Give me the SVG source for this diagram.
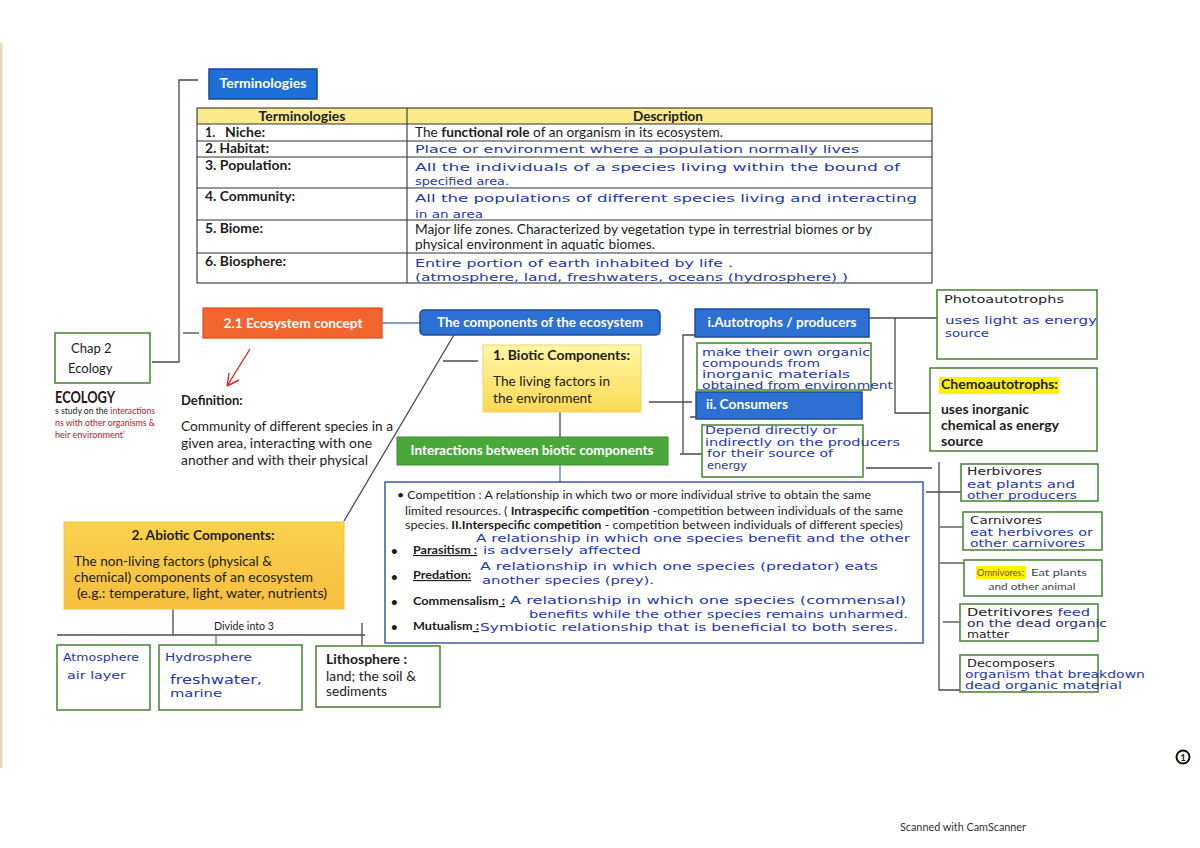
<svg xmlns="http://www.w3.org/2000/svg" width="1200" height="848" viewBox="0 0 1200 848">
<defs>
<style>
.ln{stroke:#4a4a4a;stroke-width:1.3;fill:none}
.lb{stroke:#5b7bb8;stroke-width:1.3;fill:none}
.gbox{fill:#fff;stroke:#4f8a3c;stroke-width:1.6}
.blue{fill:#2d70d3;stroke:#1c4c9c;stroke-width:1.5}
.t{font-family:Lato,"Liberation Sans",sans-serif;font-size:12.5px;fill:#1c1c1c}
.s13{font-size:13px}
.s115{font-size:11.5px}
.s10{font-size:10px;fill:#444}
.b{font-weight:bold}
.w{font-family:Lato,"Liberation Sans",sans-serif;font-size:12.5px;font-weight:bold;fill:#fff}
.hw{font-family:"DejaVu Sans",sans-serif;font-size:11px;fill:#2437b2}
.hk{font-family:"DejaVu Sans",sans-serif;font-size:11px;fill:#222}
.tb{stroke:#333;stroke-width:1.1;fill:none}
</style>
<linearGradient id="gy" x1="0" y1="0" x2="0" y2="1"><stop offset="0" stop-color="#fff6a6"/><stop offset="1" stop-color="#fcd954"/></linearGradient>
<linearGradient id="go" x1="0" y1="0" x2="0" y2="1"><stop offset="0" stop-color="#fad24c"/><stop offset="1" stop-color="#f6bd3f"/></linearGradient>
</defs>
<rect width="1200" height="848" fill="#fff"/>
<rect x="0" y="43" width="2.5" height="725" fill="#e8d8c0"/>

<g id="connectors">
<path class="ln" d="M198,80 H179 V362 H152"/>
<path class="ln" d="M183,333 H199"/>
<path class="lb" d="M382,323 H420"/>
<path class="ln" d="M458,328 L344,521"/>
<path class="ln" d="M443,361 H478"/>
<path class="ln" d="M560,412 V437"/>
<path class="lb" d="M560,465 V482"/>
<path class="ln" d="M649,402 H692"/>
<path class="ln" d="M695,335 H683 V453 M690,417 H696 M680,454 H705"/>
<path class="ln" d="M869,318 H937"/>
<path class="ln" d="M895,318 V413 H932"/>
<path class="ln" d="M866,468 H932"/>
<path class="ln" d="M939,462 V690 H960"/>
<path class="ln" d="M926,492 H961"/>
<path class="ln" d="M940,527 H963"/>
<path class="ln" d="M940,563 H964"/>
<path class="ln" d="M943,622 H960"/>
<path class="ln" d="M173,609 V635"/>
<path class="ln" d="M57,635 H365"/>
<path class="ln" d="M362,623 V646"/>
<path class="lb" d="M216,636 V645"/>
<path d="M250,349 L227,386 M227,386 L229,373 M227,386 L239,380" stroke="#e02626" stroke-width="1.4" fill="none"/>
</g>

<g id="terminologies-header">
<rect x="209" y="69" width="108" height="30" fill="#1f6fd8" stroke="#17479a" stroke-width="1.5"/>
<text class="w" x="263" y="88" text-anchor="middle" textLength="87" lengthAdjust="spacingAndGlyphs">Terminologies</text>
</g>

<g id="terminology-table">
<rect x="197" y="108" width="735" height="16" fill="#fbea8c"/>
<rect class="tb" x="197" y="108" width="735" height="175"/>
<path class="tb" d="M197,124 H932 M197,141 H932 M197,157 H932 M197,188 H932 M197,220 H932 M197,253 H932 M407,108 V283"/>
<text class="t b" x="302" y="121" text-anchor="middle" textLength="87" lengthAdjust="spacingAndGlyphs">Terminologies</text>
<text class="t b" x="668" y="121" text-anchor="middle" textLength="70" lengthAdjust="spacingAndGlyphs">Description</text>
<text class="t b" x="205" y="137">1.</text><text class="t b" x="225" y="137" textLength="40" lengthAdjust="spacingAndGlyphs">Niche:</text>
<text class="t b" x="205" y="153" textLength="64" lengthAdjust="spacingAndGlyphs">2. Habitat:</text>
<text class="t b" x="205" y="170" textLength="86" lengthAdjust="spacingAndGlyphs">3. Population:</text>
<text class="t b" x="205" y="201" textLength="90" lengthAdjust="spacingAndGlyphs">4. Community:</text>
<text class="t b" x="205" y="233" textLength="58" lengthAdjust="spacingAndGlyphs">5. Biome:</text>
<text class="t b" x="205" y="266" textLength="81" lengthAdjust="spacingAndGlyphs">6. Biosphere:</text>
<text class="t" x="415" y="137" textLength="308" lengthAdjust="spacingAndGlyphs">The <tspan class="b">functional role</tspan> of an organism in its ecosystem.</text>
<text class="hw" x="415" y="153" textLength="444" lengthAdjust="spacingAndGlyphs">Place or environment where a population normally lives</text>
<text class="hw" x="415" y="171" textLength="485" lengthAdjust="spacingAndGlyphs">All the individuals of a species living within the bound of</text>
<text class="hw" x="415" y="185" textLength="94" lengthAdjust="spacingAndGlyphs">specified area.</text>
<text class="hw" x="415" y="202" textLength="502" lengthAdjust="spacingAndGlyphs">All the populations of different species living and interacting</text>
<text class="hw" x="415" y="218" textLength="68" lengthAdjust="spacingAndGlyphs">in an area</text>
<text class="t" x="415" y="234" textLength="457" lengthAdjust="spacingAndGlyphs">Major life zones. Characterized by vegetation type in terrestrial biomes or by</text>
<text class="t" x="415" y="249" textLength="240" lengthAdjust="spacingAndGlyphs">physical environment in aquatic biomes.</text>
<text class="hw" x="415" y="267" textLength="318" lengthAdjust="spacingAndGlyphs">Entire portion of earth inhabited by life .</text>
<text class="hw" x="415" y="281" textLength="433" lengthAdjust="spacingAndGlyphs">(atmosphere, land, freshwaters, oceans (hydrosphere) )</text>
</g>

<g id="chap2">
<rect x="55" y="333" width="95" height="50" fill="#fff" stroke="#4f8a3c" stroke-width="1.6"/>
<text class="t s13" x="71" y="353">Chap 2</text>
<text class="t s13" x="68" y="373">Ecology</text>
</g>

<g id="ecology-note">
<text x="55" y="403" font-family="Lato,'Liberation Sans',sans-serif" font-weight="bold" font-size="17" fill="#2a1420" textLength="60" lengthAdjust="spacingAndGlyphs">ECOLOGY</text>
<text x="55" y="414" font-family="Lato,'Liberation Sans',sans-serif" font-size="8.5" fill="#222" textLength="100" lengthAdjust="spacingAndGlyphs">s study on the <tspan fill="#c8102e">interactions</tspan></text>
<text x="55" y="426" font-family="Lato,'Liberation Sans',sans-serif" font-size="8.5" fill="#c8102e" textLength="100" lengthAdjust="spacingAndGlyphs">ns with other organisms &amp;</text>
<text x="55" y="438" font-family="Lato,'Liberation Sans',sans-serif" font-size="8.5" fill="#c8102e" textLength="70" lengthAdjust="spacingAndGlyphs">heir environment’</text>
</g>

<g id="ecosystem-concept">
<rect x="203" y="308" width="179" height="30" fill="#f3652f" stroke="#e04a22" stroke-width="1.2"/>
<text class="w" x="293" y="328" text-anchor="middle" textLength="139" lengthAdjust="spacingAndGlyphs">2.1 Ecosystem concept</text>
</g>

<g id="definition">
<text class="t s13 b" x="181" y="405">Definition:</text>
<text class="t s13" x="181" y="431" textLength="212" lengthAdjust="spacingAndGlyphs">Community of different species in a</text>
<text class="t s13" x="181" y="448" textLength="191" lengthAdjust="spacingAndGlyphs">given area, interacting with one</text>
<text class="t s13" x="181" y="465" textLength="187" lengthAdjust="spacingAndGlyphs">another and with their physical</text>
</g>

<g id="components">
<rect x="420" y="310" width="240" height="25" rx="4" class="blue"/>
<text class="w" x="540" y="327" text-anchor="middle" textLength="206" lengthAdjust="spacingAndGlyphs">The components of the ecosystem</text>
</g>

<g id="biotic">
<rect x="483" y="345" width="158" height="67" fill="url(#gy)" stroke="#f2d36a" stroke-width="1"/>
<text class="t b" x="493" y="360" textLength="137" lengthAdjust="spacingAndGlyphs">1.  Biotic Components:</text>
<text class="t" x="493" y="386" textLength="117" lengthAdjust="spacingAndGlyphs">The living factors  in</text>
<text class="t" x="493" y="403" textLength="99" lengthAdjust="spacingAndGlyphs">the environment</text>
</g>

<g id="interactions-title">
<rect x="397" y="437" width="271" height="28" fill="#4aa83b" stroke="#3b8e2e" stroke-width="1"/>
<text class="w" x="532" y="455" text-anchor="middle" textLength="243" lengthAdjust="spacingAndGlyphs">Interactions between biotic components</text>
</g>

<g id="autotrophs">
<rect x="695" y="309" width="174" height="28" class="blue"/>
<text class="w" x="782" y="327" text-anchor="middle" textLength="149" lengthAdjust="spacingAndGlyphs">i.Autotrophs / producers</text>
</g>

<g id="autotrophs-desc">
<rect x="697" y="343" width="174" height="47" class="gbox"/>
<text class="hw" x="702" y="356" textLength="168" lengthAdjust="spacingAndGlyphs">make their own organic</text>
<text class="hw" x="702" y="367" textLength="118" lengthAdjust="spacingAndGlyphs">compounds from</text>
<text class="hw" x="702" y="378" textLength="148" lengthAdjust="spacingAndGlyphs">inorganic materials</text>
<text class="hw" x="702" y="389" textLength="191" lengthAdjust="spacingAndGlyphs">obtained from environment</text>
</g>

<g id="consumers">
<rect x="696" y="392" width="166" height="27" class="blue"/>
<text class="w" x="706" y="409" textLength="82" lengthAdjust="spacingAndGlyphs">ii. Consumers</text>
</g>

<g id="consumers-desc">
<rect x="702" y="425" width="161" height="52" class="gbox"/>
<text class="hw" x="705" y="434" textLength="132" lengthAdjust="spacingAndGlyphs">Depend directly or</text>
<text class="hw" x="705" y="446" textLength="195" lengthAdjust="spacingAndGlyphs">indirectly on the producers</text>
<text class="hw" x="707" y="457" textLength="126" lengthAdjust="spacingAndGlyphs">for their source of</text>
<text class="hw" x="707" y="469" textLength="40" lengthAdjust="spacingAndGlyphs">energy</text>
</g>

<g id="photoautotrophs">
<rect x="937" y="290" width="160" height="69" class="gbox"/>
<text class="hk" x="944" y="303" textLength="120" lengthAdjust="spacingAndGlyphs">Photoautotrophs</text>
<text class="hw" x="945" y="324" textLength="152" lengthAdjust="spacingAndGlyphs">uses light as energy</text>
<text class="hw" x="945" y="337" textLength="44" lengthAdjust="spacingAndGlyphs">source</text>
</g>

<g id="chemoautotrophs">
<rect x="930" y="368" width="167" height="83" class="gbox"/>
<rect x="939" y="377" width="120" height="17" fill="#fff200"/>
<text class="t s13 b" x="941" y="389" textLength="117" lengthAdjust="spacingAndGlyphs">Chemoautotrophs:</text>
<text class="t s13 b" x="941" y="414" textLength="88" lengthAdjust="spacingAndGlyphs">uses inorganic</text>
<text class="t s13 b" x="941" y="430" textLength="118" lengthAdjust="spacingAndGlyphs">chemical as energy</text>
<text class="t s13 b" x="941" y="446" textLength="42" lengthAdjust="spacingAndGlyphs">source</text>
</g>

<g id="herbivores">
<rect x="961" y="464" width="137" height="37" class="gbox"/>
<text class="hk" x="967" y="475" textLength="75" lengthAdjust="spacingAndGlyphs">Herbivores</text>
<text class="hw" x="967" y="488" textLength="108" lengthAdjust="spacingAndGlyphs">eat plants and</text>
<text class="hw" x="967" y="499" textLength="110" lengthAdjust="spacingAndGlyphs">other producers</text>
</g>

<g id="carnivores">
<rect x="963" y="512" width="139" height="38" class="gbox"/>
<text class="hk" x="970" y="524" textLength="72" lengthAdjust="spacingAndGlyphs">Carnivores</text>
<text class="hw" x="970" y="536" textLength="123" lengthAdjust="spacingAndGlyphs">eat herbivores or</text>
<text class="hw" x="970" y="547" textLength="115" lengthAdjust="spacingAndGlyphs">other carnivores</text>
</g>

<g id="omnivores">
<rect x="964" y="560" width="138" height="36" class="gbox"/>
<rect x="976" y="566" width="50" height="13" fill="#fff200"/>
<text class="t s10" x="977" y="576" style="fill:#7a5200" textLength="47" lengthAdjust="spacingAndGlyphs">Omnivores:</text>
<text class="t s10" x="1031" y="576" textLength="56" lengthAdjust="spacingAndGlyphs">Eat plants</text>
<text class="t s10" x="1032" y="590" text-anchor="middle" textLength="87" lengthAdjust="spacingAndGlyphs">and other animal</text>
</g>

<g id="detritivores">
<rect x="960" y="604" width="138" height="37" class="gbox"/>
<text class="hk" x="967" y="616" textLength="123" lengthAdjust="spacingAndGlyphs">Detritivores <tspan style="fill:#2437b2">feed</tspan></text>
<text class="hw" x="967" y="627" style="fill:#1d2a7a" textLength="140" lengthAdjust="spacingAndGlyphs">on the dead organic</text>
<text class="hk" x="967" y="638" textLength="42" lengthAdjust="spacingAndGlyphs">matter</text>
</g>

<g id="decomposers">
<rect x="960" y="655" width="138" height="37" class="gbox"/>
<text class="hk" x="967" y="667" textLength="88" lengthAdjust="spacingAndGlyphs">Decomposers</text>
<text class="hw" x="965" y="678" textLength="180" lengthAdjust="spacingAndGlyphs">organism that breakdown</text>
<text class="hw" x="965" y="689" textLength="157" lengthAdjust="spacingAndGlyphs">dead organic material</text>
</g>

<g id="interactions">
<rect x="385" y="482" width="538" height="161" fill="#fff" stroke="#2a4fa0" stroke-width="1.4"/>
<text class="t s115" x="397" y="499" textLength="474" lengthAdjust="spacingAndGlyphs">• Competition : A relationship in which two or more individual strive to obtain the same</text>
<text class="t s115" x="405" y="515" textLength="498" lengthAdjust="spacingAndGlyphs">limited resources. ( <tspan class="b">Intraspecific competition</tspan> -competition between individuals of the same</text>
<text class="t s115" x="405" y="529" textLength="498" lengthAdjust="spacingAndGlyphs">species. <tspan class="b">II.Interspecific competition</tspan>   - competition between individuals of different species)</text>
<text class="hw" x="476" y="542" textLength="434" lengthAdjust="spacingAndGlyphs">A relationship in which one species benefit and the other</text>
<text class="t s115 b" x="391" y="555">•</text>
<text class="t s115 b" x="413" y="554" text-decoration="underline" textLength="64" lengthAdjust="spacingAndGlyphs">Parasitism :</text>
<text class="hw" x="483" y="554" textLength="158" lengthAdjust="spacingAndGlyphs">is adversely affected</text>
<text class="hw" x="480" y="570" textLength="398" lengthAdjust="spacingAndGlyphs">A relationship in which one species (predator) eats</text>
<text class="t s115 b" x="391" y="581">•</text>
<text class="t s115 b" x="413" y="579" text-decoration="underline" textLength="58" lengthAdjust="spacingAndGlyphs">Predation:</text>
<text class="hw" x="482" y="584" textLength="172" lengthAdjust="spacingAndGlyphs">another species (prey).</text>
<text class="t s115 b" x="391" y="606">•</text>
<text class="t s115 b" x="413" y="605" textLength="92" lengthAdjust="spacingAndGlyphs">Commensalism<tspan text-decoration="underline"> :</tspan></text>
<text class="hw" x="510" y="604" textLength="396" lengthAdjust="spacingAndGlyphs">A relationship in which one species (commensal)</text>
<text class="hw" x="529" y="618" textLength="379" lengthAdjust="spacingAndGlyphs">benefits while the other species remains unharmed.</text>
<text class="t s115 b" x="391" y="631">•</text>
<text class="t s115 b" x="413" y="630" textLength="66" lengthAdjust="spacingAndGlyphs">Mutualism<tspan text-decoration="underline"> :</tspan></text>
<text class="hw" x="480" y="631" textLength="418" lengthAdjust="spacingAndGlyphs">Symbiotic relationship that is beneficial to both seres.</text>
</g>

<g id="abiotic">
<rect x="64" y="522" width="280" height="87" fill="url(#go)" stroke="#f0c040" stroke-width="1"/>
<text class="t s13 b" x="203" y="540" text-anchor="middle" textLength="143" lengthAdjust="spacingAndGlyphs">2. Abiotic Components:</text>
<text class="t s13" x="74" y="566" textLength="198" lengthAdjust="spacingAndGlyphs">The non-living factors (physical &amp;</text>
<text class="t s13" x="74" y="582" textLength="239" lengthAdjust="spacingAndGlyphs">chemical)  components of an ecosystem</text>
<text class="t s13" x="77" y="598" textLength="250" lengthAdjust="spacingAndGlyphs">(e.g.: temperature, light, water, nutrients)</text>
</g>

<g id="divide-label">
<text class="t" x="214" y="630" style="font-size:10.5px" textLength="60" lengthAdjust="spacingAndGlyphs">Divide into 3</text>
</g>

<g id="atmosphere">
<rect x="57" y="645" width="93" height="65" class="gbox"/>
<text class="hw" x="63" y="661" textLength="76" lengthAdjust="spacingAndGlyphs">Atmosphere</text>
<text class="hw" x="67" y="679" textLength="59" lengthAdjust="spacingAndGlyphs">air layer</text>
</g>

<g id="hydrosphere">
<rect x="159" y="645" width="143" height="65" class="gbox"/>
<text class="hw" x="165" y="661" textLength="87" lengthAdjust="spacingAndGlyphs">Hydrosphere</text>
<text class="hw" x="170" y="684" style="font-size:12px" textLength="92" lengthAdjust="spacingAndGlyphs">freshwater,</text>
<text class="hw" x="170" y="697" textLength="52" lengthAdjust="spacingAndGlyphs">marine</text>
</g>

<g id="lithosphere">
<rect x="316" y="646" width="124" height="61" class="gbox"/>
<text class="t s13 b" x="326" y="664" textLength="81" lengthAdjust="spacingAndGlyphs">Lithosphere :</text>
<text class="t s13" x="326" y="681" textLength="90" lengthAdjust="spacingAndGlyphs">land; the soil &amp;</text>
<text class="t s13" x="326" y="696" textLength="61" lengthAdjust="spacingAndGlyphs">sediments</text>
</g>

<g id="page-number">
<circle cx="1183" cy="757" r="6.5" fill="none" stroke="#111" stroke-width="2"/>
<text x="1183" y="760.5" font-family="Lato,'Liberation Sans',sans-serif" font-size="9" font-weight="bold" fill="#111" text-anchor="middle">1</text>
</g>
<text x="900" y="831" font-family="Lato,'Liberation Sans',sans-serif" font-size="10.5" fill="#333" textLength="126" lengthAdjust="spacingAndGlyphs">Scanned with CamScanner</text>
</svg>
